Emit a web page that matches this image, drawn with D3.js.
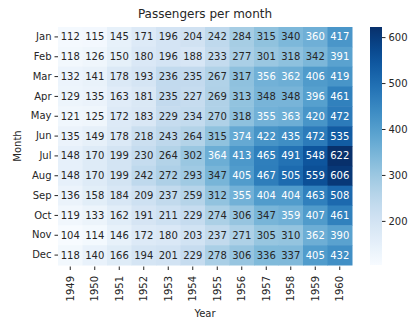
<!DOCTYPE html>
<html>
<head>
<meta charset="utf-8">
<script src="https://cdn.jsdelivr.net/npm/d3@7"></script>
<style>
  body { margin: 0; background: #fff; }
  text { font-family: "DejaVu Sans", sans-serif; fill: #262626; }
</style>
</head>
<body>
<div id="chart"></div>
<script>
const months = ["Jan", "Feb", "Mar", "Apr", "May", "Jun", "Jul", "Aug", "Sep", "Oct", "Nov", "Dec"];
const years = ["1949", "1950", "1951", "1952", "1953", "1954", "1955", "1956", "1957", "1958", "1959", "1960"];

const jan = [112, 115, 145, 171, 196, 204, 242, 284, 315, 340, 360, 417];
const feb = [118, 126, 150, 180, 196, 188, 233, 277, 301, 318, 342, 391];
const mar = [132, 141, 178, 193, 236, 235, 267, 317, 356, 362, 406, 419];
const apr = [129, 135, 163, 181, 235, 227, 269, 313, 348, 348, 396, 461];
const may = [121, 125, 172, 183, 229, 234, 270, 318, 355, 363, 420, 472];
const jun = [135, 149, 178, 218, 243, 264, 315, 374, 422, 435, 472, 535];
const jul = [148, 170, 199, 230, 264, 302, 364, 413, 465, 491, 548, 622];
const aug = [148, 170, 199, 242, 272, 293, 347, 405, 467, 505, 559, 606];
const sep = [136, 158, 184, 209, 237, 259, 312, 355, 404, 404, 463, 508];
const oct = [119, 133, 162, 191, 211, 229, 274, 306, 347, 359, 407, 461];
const nov = [104, 114, 146, 172, 180, 203, 237, 271, 305, 310, 362, 390];
const dec = [118, 140, 166, 194, 201, 229, 278, 306, 336, 337, 405, 432];

const colorTicks = [200, 300, 400, 500, 600];

const rows = [jan, feb, mar, apr, may, jun, jul, aug, sep, oct, nov, dec];
const cells = [];
rows.forEach((r, i) => r.forEach((v, j) => cells.push({ month: months[i], year: years[j], value: v })));

const W = 416, H = 330;
const plotLeft = 58, plotTop = 27, plotRight = 352, plotBottom = 265;

const svg = d3.select("#chart").append("svg")
    .attr("width", W)
    .attr("height", H);

const x = d3.scaleBand().domain(years).range([plotLeft, plotRight]);
const y = d3.scaleBand().domain(months).range([plotTop, plotBottom]);

const vmin = d3.min(cells, d => d.value), vmax = d3.max(cells, d => d.value);
const color = d3.scaleSequential(d3.interpolateBlues).domain([vmin, vmax]);

svg.append("g").selectAll("rect")
    .data(cells)
    .enter()
    .append("rect")
    .attr("x", d => x(d.year))
    .attr("y", d => y(d.month))
    .attr("width", x.bandwidth() + 0.5)
    .attr("height", y.bandwidth() + 0.5)
    .attr("fill", d => color(d.value));

svg.append("g").selectAll("text")
    .data(cells)
    .enter()
    .append("text")
    .attr("x", d => x(d.year) + x.bandwidth() / 2)
    .attr("y", d => y(d.month) + y.bandwidth() / 2)
    .attr("dy", "0.35em")
    .attr("text-anchor", "middle")
    .style("font-size", "10px")
    .style("fill", d => d.value > 350 ? "#ffffff" : "#262626")
    .text(d => d.value);

// month axis
const yAxis = svg.append("g")
    .attr("transform", `translate(${plotLeft},0)`)
    .call(d3.axisLeft(y).tickSize(3.5).tickPadding(3));
yAxis.select(".domain").remove();
yAxis.selectAll("line").attr("stroke", "#262626");
yAxis.selectAll("text").style("font-size", "10px").style("font-family", "DejaVu Sans");

// year axis, rotated labels
const xAxis = svg.append("g")
    .attr("transform", `translate(0,${plotBottom})`)
    .call(d3.axisBottom(x).tickSize(5).tickPadding(3));
xAxis.select(".domain").remove();
xAxis.selectAll("line").attr("stroke", "#262626").attr("y1", 1.5);
xAxis.selectAll("text")
    .style("font-size", "10px")
    .style("font-family", "DejaVu Sans")
    .attr("transform", "rotate(-90)")
    .attr("x", -11)
    .attr("y", 0)
    .attr("dy", "0.35em")
    .style("text-anchor", "end");

svg.append("text")
    .attr("x", (plotLeft + plotRight) / 2)
    .attr("y", 317)
    .attr("text-anchor", "middle")
    .style("font-size", "10px")
    .text("Year");

svg.append("text")
    .attr("transform", `translate(21,${(plotTop + plotBottom) / 2}) rotate(-90)`)
    .attr("text-anchor", "middle")
    .style("font-size", "10px")
    .text("Month");

svg.append("text")
    .attr("x", (plotLeft + plotRight) / 2)
    .attr("y", 18)
    .attr("text-anchor", "middle")
    .style("font-size", "12px")
    .text("Passengers per month");

// colour bar
const cbX = 370, cbW = 12;
const cbScale = d3.scaleLinear().domain([vmin, vmax]).range([plotBottom, plotTop]);
const defs = svg.append("defs");
const grad = defs.append("linearGradient")
    .attr("id", "cbgrad")
    .attr("x1", 0).attr("y1", 1).attr("x2", 0).attr("y2", 0);
d3.range(0, 1.0001, 0.05).forEach(t => {
    grad.append("stop")
        .attr("offset", t)
        .attr("stop-color", color(vmin + t * (vmax - vmin)));
});
svg.append("rect")
    .attr("x", cbX)
    .attr("y", plotTop)
    .attr("width", cbW)
    .attr("height", plotBottom - plotTop)
    .attr("fill", "url(#cbgrad)");

const cbAxis = svg.append("g")
    .attr("transform", `translate(${cbX + cbW},0)`)
    .call(d3.axisRight(cbScale).tickValues(colorTicks).tickSize(3.5).tickPadding(3));
cbAxis.select(".domain").remove();
cbAxis.selectAll("line").attr("stroke", "#262626");
cbAxis.selectAll("text").style("font-size", "10px").style("font-family", "DejaVu Sans");
</script>
</body>
</html>
